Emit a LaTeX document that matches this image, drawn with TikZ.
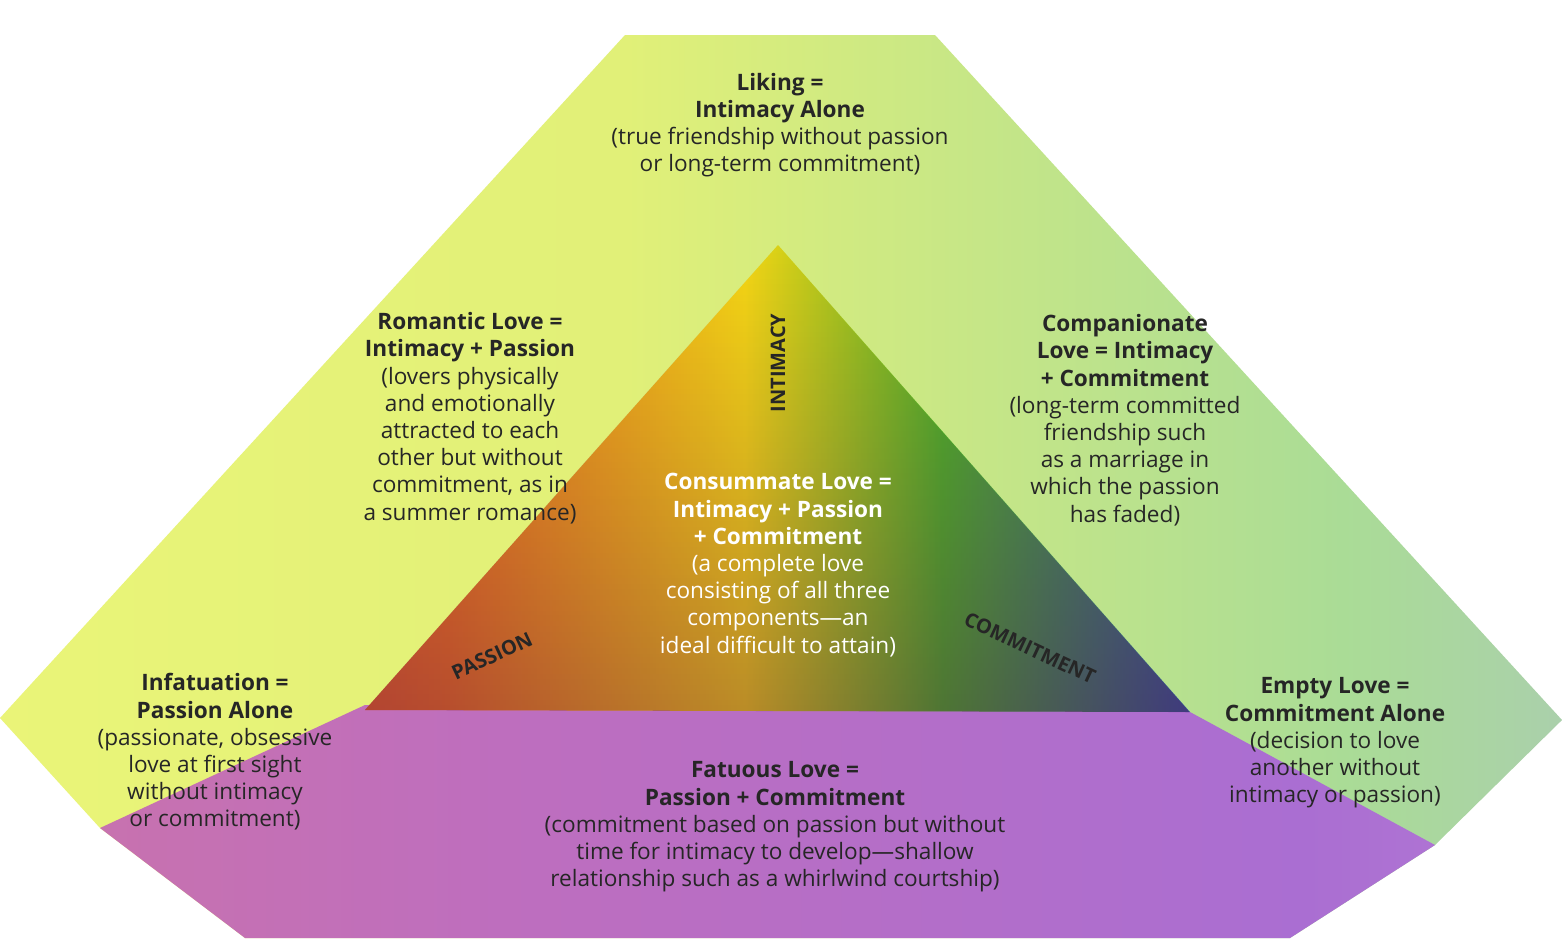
\documentclass[tikz,border=0pt]{standalone}
\usepackage{fontspec}
\setmainfont{Open Sans}
\usetikzlibrary{fadings}
\definecolor{r1}{RGB}{200,30,70}\definecolor{r2}{RGB}{240,120,30}\definecolor{r3}{RGB}{245,215,20}
\definecolor{r4}{RGB}{80,180,40}\definecolor{r5}{RGB}{50,60,190}\definecolor{r6}{RGB}{100,50,170}
\definecolor{o1}{RGB}{245,250,120}\definecolor{o2}{RGB}{225,240,120}\definecolor{o3}{RGB}{170,220,150}\definecolor{o4}{RGB}{170,185,210}\definecolor{o5}{RGB}{165,170,200}
\definecolor{b1}{RGB}{215,120,150}\definecolor{b2}{RGB}{190,110,190}\definecolor{b3}{RGB}{170,110,210}\definecolor{b4}{RGB}{195,140,215}
\pgfdeclarehorizontalshading{rainbow}{100bp}{color(0bp)=(r1);color(30bp)=(r2);color(48bp)=(r3);color(60bp)=(r4);color(80bp)=(r5);color(100bp)=(r6)}
\pgfdeclarehorizontalshading{outer}{100bp}{color(0bp)=(o1);color(45bp)=(o2);color(68bp)=(o3);color(88bp)=(o4);color(100bp)=(o5)}
\pgfdeclarehorizontalshading{band}{100bp}{color(0bp)=(b1);color(40bp)=(b2);color(70bp)=(b3);color(100bp)=(b4)}
\begin{document}
\begin{tikzpicture}[x=0.5pt,y=-0.5pt,
  txt/.style={align=center,font=\fontsize{11.3}{13.6}\selectfont,text=black!85},
  lab/.style={font=\bfseries\fontsize{10}{12}\selectfont,text=black!85,inner sep=0pt}]
\useasboundingbox (0,0) rectangle (1562,942);
\fill[white] (0,0) rectangle (1562,942);
\shade[shading=outer] (625,35) -- (935,35) -- (1562,720) -- (1435,845) -- (1290,938) -- (245,938) -- (100,828) -- (0,718) -- cycle;
\shade[shading=band] (100,828) -- (365,705) -- (1190,712) -- (1435,845) -- (1290,938) -- (245,938) -- cycle;
\shade[shading=rainbow] (778,245) -- (1190,712) -- (365,710) -- cycle;
\fill[violet!60!black, path fading=north, opacity=0.35] (778,245) -- (1190,712) -- (365,710) -- cycle;
\node[txt] (lik) at (780,125) {\textbf{Liking =}\\\textbf{Intimacy Alone}\\(true friendship without passion\\or long-term commitment)};
\node[txt] (rom) at (470,418) {\textbf{Romantic Love =}\\\textbf{Intimacy + Passion}\\(lovers physically\\and emotionally\\attracted to each\\other but without\\commitment, as in\\a summer romance)};
\node[txt] (com) at (1125,420) {\textbf{Companionate}\\\textbf{Love = Intimacy}\\\textbf{+ Commitment}\\(long-term committed\\friendship such\\as a marriage in\\which the passion\\has faded)};
\node[txt,text=white] (cons) at (778,565) {\textbf{Consummate Love =}\\\textbf{Intimacy + Passion}\\\textbf{+ Commitment}\\(a complete love\\consisting of all three\\components---an\\ideal difficult to attain)};
\node[txt] (inf) at (215,752) {\textbf{Infatuation =}\\\textbf{Passion Alone}\\(passionate, obsessive\\love at first sight\\without intimacy\\or commitment)};
\node[txt] (fat) at (775,827) {\textbf{Fatuous Love =}\\\textbf{Passion + Commitment}\\(commitment based on passion but without\\time for intimacy to develop---shallow\\relationship such as a whirlwind courtship)};
\node[txt] (emp) at (1335,743) {\textbf{Empty Love =}\\\textbf{Commitment Alone}\\(decision to love\\another without\\intimacy or passion)};
\node[lab,rotate=90] (int) at (778,363) {INTIMACY};
\node[lab,rotate=25] (pas) at (492,656) {PASSION};
\node[lab,rotate=-25] (cmt) at (1030,648) {COMMITMENT};
\end{tikzpicture}
\end{document}
